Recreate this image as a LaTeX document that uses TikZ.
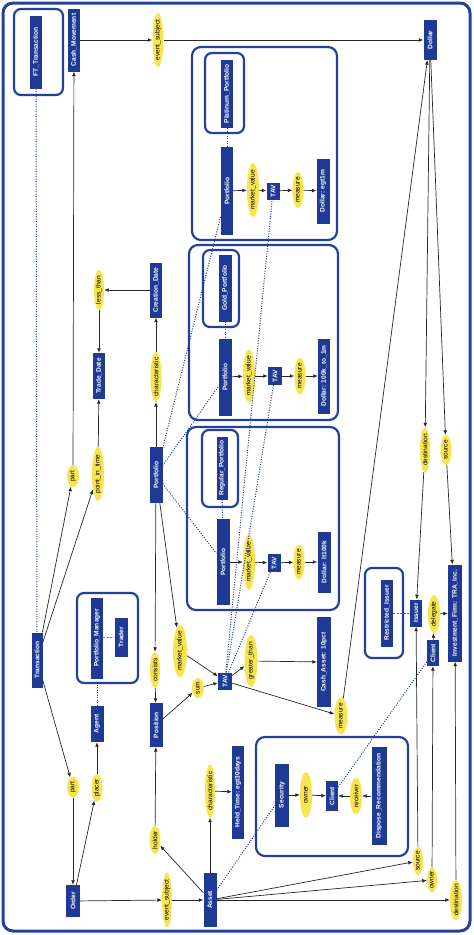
\documentclass[tikz,border=0pt]{standalone}
\usepackage{fontspec}
\setsansfont{Liberation Sans}
\usetikzlibrary{shapes.geometric,arrows.meta}
\definecolor{boxblue}{RGB}{30,58,150}
\definecolor{propyellow}{RGB}{247,228,80}
\definecolor{frameblue}{RGB}{36,64,158}

\begin{document}
\begin{tikzpicture}[x=1pt, y=-1pt, >={Latex[length=4.5pt,width=3.8pt]},
  cls/.style={rectangle, fill=boxblue, text=white, font=\sffamily\bfseries\fontsize{6.6}{7}\selectfont, rotate=90, inner sep=1pt, minimum height=12},
  prop/.style={ellipse, fill=propyellow, font=\sffamily\fontsize{6.6}{7}\selectfont, rotate=90, inner sep=0pt, minimum height=11,
    execute at begin node={\hbox to 0pt\bgroup\hss}, execute at end node={\hss\egroup}},
  grp/.style={draw=frameblue, line width=2.2pt, rounded corners=7pt},
  rel/.style={->, line width=0.7pt, black!85},
  sub/.style={draw=boxblue, line width=1pt, dash pattern=on 1pt off 1.5pt},
  dsh/.style={draw=black!60, line width=0.7pt, dash pattern=on 2pt off 1.5pt}]
		\useasboundingbox (0,0) rectangle (474,935);
		\draw[grp, line width=3pt, rounded corners=10pt] (3,3) rectangle (470,931);
		%Gruppene
		\draw[grp, rounded corners=9pt] (192,47) rectangle (337,240);
		\draw[grp, rounded corners=9pt] (189,245) rectangle (338,420);
		\draw[grp, rounded corners=9pt] (187,427) rectangle (339,610);
		\draw[grp, rounded corners=9pt] (256,737) rectangle (408,856);
		\draw[grp] (14,9) rectangle (63,95);
		\draw[grp] (205,53) rectangle (244,133);
		\draw[grp] (203,250) rectangle (239,327);
		\draw[grp] (202,430) rectangle (238,507);
		\draw[grp] (77,593) rectangle (138,683);
		\draw[grp] (365,568) rectangle (403,658);
		\coordinate (pmgrp) at (97,683);
		%Klasser
		\node[cls, minimum width=73] (ft) at (36,52) {FT\_Transaction};
		\node[cls, minimum width=63] (cash) at (74,40) {Cash\_Movement};
		\node[cls, minimum width=40, minimum height=13] (dollar) at (430,40) {Dollar};
		\node[cls, minimum width=68] (platp) at (227,94) {Platinum\_Portfolio};
		\node[cls, minimum width=88] (port1) at (227,191) {Portfolio};
		\node[cls, minimum width=17, minimum height=13] (tav1) at (273,191) {TAV};
		\node[cls, minimum width=65, minimum height=13] (dol1) at (323,191) {Dollar: egt1m};
		\node[cls, minimum width=55] (cdate) at (156,290) {Creation\_Date};
		\node[cls, minimum width=46] (tdate) at (99,376) {Trade\_Date};
		\node[cls, minimum width=67, minimum height=13] (goldp) at (225,288) {Gold\_Portfolio};
		\node[cls, minimum width=77, minimum height=13] (port2) at (225,377) {Portfolio};
		\node[cls, minimum width=18, minimum height=14] (tav2) at (275,376) {TAV};
		\node[cls, minimum width=75] (dol2) at (324,376) {Dollar: 100k\_to\_1m};
		\node[cls, minimum width=56, minimum height=13] (mport) at (156,475) {Portfolio};
		\node[cls, minimum width=63, minimum height=11] (regp) at (222,468) {Regular\_Portfolio};
		\node[cls, minimum width=86, minimum height=13] (port3) at (223,562) {Portfolio};
		\node[cls, minimum width=18, minimum height=13] (tav3) at (274,563) {TAV};
		\node[cls, minimum width=61, minimum height=13] (dol3) at (324,562) {Dollar: lt100k};
		\node[cls, minimum width=55, minimum height=11] (trans) at (37,660) {Transaction};
		\node[cls, minimum width=81] (pm) at (97,638) {Portfolio\_Manager};
		\node[cls, minimum width=39, minimum height=13] (trader) at (121,637) {Trader};
		\node[cls, minimum width=36, minimum height=13] (agent) at (97,724) {Agent};
		\node[cls, minimum width=44, minimum height=13] (pos) at (156,725) {Position};
		\node[cls, minimum width=17, minimum height=14] (tav) at (225,681) {TAV};
		\node[cls, minimum width=90, minimum height=14] (cashasset) at (324,662) {Cash\_Asset: 10pct};
		\node[cls, minimum width=67] (restr) at (387,613) {Restricted\_Issuer};
		\node[cls, minimum width=27] (issuer) at (416,613) {Issuer};
		\node[cls, minimum width=26] (client) at (433,653) {Client};
		\node[cls, minimum width=97, minimum height=14] (inv) at (455,613) {Investment\_Firm: TRA\_Inc.};
		\node[cls, minimum width=93] (held) at (238,792) {Held\_Time: egt30days};
		\node[cls, minimum width=63, minimum height=14] (sec) at (282,795) {Security};
		\node[cls, minimum width=30] (client2) at (332,796) {Client};
		\node[cls, minimum width=98, minimum height=15] (dispose) at (379,796) {Dispose\_Recommendation};
		\node[cls, minimum width=32, minimum height=14] (order) at (73,901) {Order};
		\node[cls, minimum width=54, minimum height=13] (asset) at (210,900) {Asset};
		%Egenskaper
		\node[prop, minimum width=54] (evsub) at (158,40) {event\_subject};
		\node[prop, minimum width=54, minimum height=12] (mv1) at (253,190) {market\_value};
		\node[prop, minimum width=36] (meas1) at (298,190) {measure};
		\node[prop, minimum width=40, minimum height=10] (less) at (99,290) {less\_than};
		\node[prop, minimum width=50] (char1) at (156,377) {characteristic};
		\node[prop, minimum width=22, minimum height=12] (part1) at (73,476) {part};
		\node[prop, minimum width=54, minimum height=12] (pit) at (98,474) {point\_in\_time};
		\node[prop, minimum width=53, minimum height=12] (mv2) at (249,376) {market\_value};
		\node[prop, minimum width=37] (meas2) at (300,376) {measure};
		\node[prop, minimum width=55, minimum height=12] (mv3) at (249,562) {market\_value};
		\node[prop, minimum width=35] (meas3) at (299,562) {measure};
		\node[prop, minimum width=36, minimum height=10] (cons) at (155,670) {consists};
		\node[prop, minimum width=52, minimum height=14] (mv) at (180,651) {market\_value};
		\node[prop, minimum width=20, minimum height=12] (sum) at (198,688) {sum};
		\node[prop, minimum width=52, minimum height=13] (gt) at (251,661) {greater\_than};
		\node[prop, minimum width=37, minimum height=13] (meas) at (341,716) {measure};
		\node[prop, minimum width=45, minimum height=10] (dest1) at (425,450) {destination};
		\node[prop, minimum width=30] (src1) at (446,450) {source};
		\node[prop, minimum width=38, minimum height=12] (deleg) at (434,614) {delegate};
		\node[prop, minimum width=21, minimum height=12] (part2) at (73,787) {part};
		\node[prop, minimum width=28] (placer) at (97,788) {placer};
		\node[prop, minimum width=28] (holder) at (155,840) {holder};
		\node[prop, minimum width=53, minimum height=10] (char2) at (210,791) {characteristic};
		\node[prop, minimum width=55, minimum height=10] (evsub2) at (167,900) {event\_subject};
		\node[prop, minimum width=46, minimum height=12] (owner) at (306,795) {owner};
		\node[prop, minimum width=37, minimum height=12] (recv) at (356,796) {receiver};
		\node[prop, minimum width=28, minimum height=10] (src2) at (418,861) {source};
		\node[prop, minimum width=25, minimum height=10] (own2) at (432,880) {owner};
		\node[prop, minimum width=40, minimum height=12] (dest2) at (456,900) {destination};
		%Subklasser
		\draw[sub] (ft) -- (trans);
		\draw[sub] (platp) -- (port1);
		\draw[sub] (goldp) -- (port2);
		\draw[sub] (regp) -- (port3);
		\draw[sub] (mport) -- (port1);
		\draw[sub] (mport) -- (port2);
		\draw[sub] (mport) -- (port3);
		\draw[sub] (tav) -- (tav1);
		\draw[sub] (tav) -- (tav2);
		\draw[sub] (tav) -- (tav3);
		\draw[sub] (agent) -- (pmgrp);
		\draw[sub] (asset) -- (sec);
		\draw[sub] (client) -- (client2);
		\draw[dsh] (pm) -- (trader);
		\draw[dsh] (restr) -- (issuer);
		%Relasjoner
		\draw[rel] (cash) -- (evsub);
		\draw[rel] (evsub) -- (dollar);
		\draw[rel] (part1) -- (cash);
		\draw[rel] (trans) -- (part1);
		\draw[rel] (trans) -- (pit);
		\draw[rel] (trans) -- (part2);
		\draw[rel] (pit) -- (tdate);
		\draw[rel] (less) -- (tdate);
		\draw[rel] (cdate) -- (less);
		\draw[rel] (char1) -- (cdate);
		\draw[rel] (mport) -- (char1);
		\draw[rel] (mport) -- (cons);
		\draw[rel] (cons) -- (pos);
		\draw[rel] (mport) -- (mv);
		\draw[rel] (mv) -- (tav);
		\draw[rel] (pos) -- (sum);
		\draw[rel] (sum) -- (tav);
		\draw[rel] (tav) -- (gt);
		\draw[rel] (gt) -- (cashasset);
		\draw[rel] (tav) -- (meas);
		\draw[rel] (meas) -- (dollar);
		\draw[rel] (dollar) -- (dest1);
		\draw[rel] (dollar) -- (src1);
		\draw[rel] (dest1) -- (issuer);
		\draw[rel] (src1) -- (inv);
		\draw[rel] (client) -- (deleg);
		\draw[rel] (deleg) -- (inv);
		\draw[rel] (src2) -- (issuer);
		\draw[rel] (own2) -- (client);
		\draw[rel] (dest2) -- (inv);
		\draw[rel] (asset) -- (src2);
		\draw[rel] (asset) -- (own2);
		\draw[rel] (asset) -- (dest2);
		\draw[rel] (order) -- (evsub2);
		\draw[rel] (evsub2) -- (asset);
		\draw[rel] (part2) -- (order);
		\draw[rel] (order) -- (placer);
		\draw[rel] (placer) -- (agent);
		\draw[rel] (asset) -- (holder);
		\draw[rel] (holder) -- (pos);
		\draw[rel] (asset) -- (char2);
		\draw[rel] (char2) -- (held);
		\draw[rel] (sec) -- (owner);
		\draw[rel] (owner) -- (client2);
		\draw[rel] (dispose) -- (recv);
		\draw[rel] (recv) -- (client2);
		\draw[rel] (port1) -- (mv1);
		\draw[rel] (mv1) -- (tav1);
		\draw[rel] (tav1) -- (meas1);
		\draw[rel] (meas1) -- (dol1);
		\draw[rel] (port2) -- (mv2);
		\draw[rel] (mv2) -- (tav2);
		\draw[rel] (tav2) -- (meas2);
		\draw[rel] (meas2) -- (dol2);
		\draw[rel] (port3) -- (mv3);
		\draw[rel] (mv3) -- (tav3);
		\draw[rel] (tav3) -- (meas3);
		\draw[rel] (meas3) -- (dol3);
	\end{tikzpicture}
\end{document}
